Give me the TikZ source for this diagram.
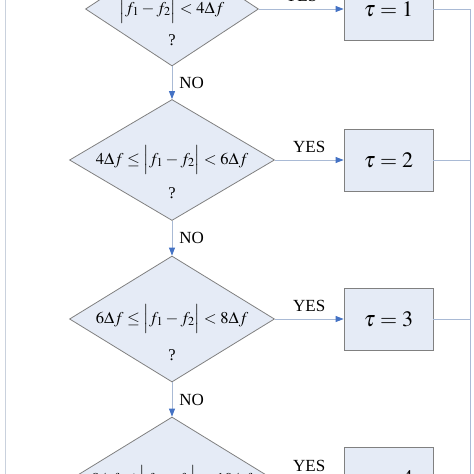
\documentclass[tikz,border=0pt]{standalone}
\usepackage{amsmath}
\usepackage{mathptmx}
\usepackage{fontspec}
\setmainfont{Liberation Serif}
\usetikzlibrary{shapes.geometric,arrows.meta}
\definecolor{fillblue}{HTML}{E5EBF6}
\definecolor{edgegray}{HTML}{808080}
\definecolor{linkblue}{HTML}{A9BAD5}
\definecolor{tipblue}{HTML}{4472C4}
\definecolor{sideline}{HTML}{C9D1DD}
\newcommand{\absdiff}{\Bigl|f_1-f_2\Bigr|}
\tikzset{
  decision/.style={diamond,draw=edgegray,fill=fillblue,inner sep=0pt,line width=0.8pt},
  result/.style={rectangle,draw=edgegray,fill=fillblue,minimum width=89pt,minimum height=62pt,
    inner sep=0pt,line width=0.8pt,font=\fontsize{22}{24}\selectfont},
  cond/.style={inner sep=0pt,font=\fontsize{16.5}{18}\selectfont},
  answer/.style={font=\fontsize{17}{19}\selectfont,inner sep=1pt},
  flow/.style={draw=linkblue,line width=0.9pt,-{Triangle[length=8pt,width=6pt,fill=tipblue,color=tipblue]}},
  back/.style={draw=linkblue,line width=0.9pt},
}
\begin{document}
\begin{tikzpicture}[x=1pt,y=-1pt]
  \useasboundingbox (0,0) rectangle (474,474);
  % decisions
  \node[decision,minimum width=173pt,minimum height=114pt] (c1) at (172,9) {};
  \node[decision,minimum width=205pt,minimum height=121pt] (c2) at (172,160) {};
  \node[decision,minimum width=205pt,minimum height=126pt] (c3) at (172,319) {};
  \node[decision,minimum width=205pt,minimum height=126pt] (c4) at (172,480) {};
  \node[cond] (c1t) at (c1.center) {$\absdiff<4\Delta f$};
  \node[cond] (c1q) at ([yshift=-31pt]c1.center) {?};
  \node[cond] (c2t) at (c2.center) {$4\Delta f\leq\absdiff<6\Delta f$};
  \node[cond] (c2q) at ([yshift=-33pt]c2.center) {?};
  \node[cond] (c3t) at (c3.center) {$6\Delta f\leq\absdiff<8\Delta f$};
  \node[cond] (c3q) at ([yshift=-36pt]c3.center) {?};
  \node[cond] (c4t) at (c4.center) {$8\Delta f\leq\absdiff<10\Delta f$};
  % results
  \node[result] (r1) at (388.5,9) {$\tau=1$};
  \node[result] (r2) at (388.5,160) {$\tau=2$};
  \node[result] (r3) at (388.5,319) {$\tau=3$};
  \node[result] (r4) at (388.5,478) {$\tau=4$};
  % yes / no
  \foreach \i in {1,2,3,4} {
    \draw[flow] (c\i.east) -- node[answer,above=6pt] {YES} (r\i.west);
  }
  \foreach \i/\j in {1/2,2/3,3/4} {
    \draw[flow] (c\i.south) -- node[answer,right=6pt] {NO} (c\j.north);
  }
  % side lines
  \coordinate (rt) at (470,9);
  \coordinate (rb) at (470,500);
  \coordinate (lt) at (5,-30);
  \coordinate (lb) at (5,500);
  \draw[back] (r1.east) -- (rt) -- (rb);
  \foreach \i in {2,3,4} {
    \draw[back] (r\i.east) -- (r\i.east -| rt);
  }
  \draw[draw=sideline,line width=0.9pt] (lt) -- (lb);
\end{tikzpicture}
\end{document}
